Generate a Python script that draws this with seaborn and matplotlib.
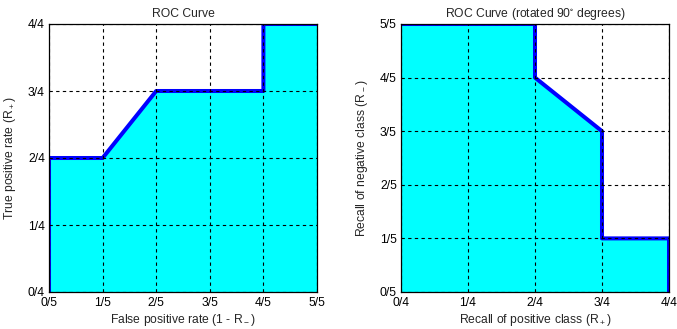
import matplotlib
matplotlib.use("Agg")
import matplotlib.pyplot as plt
import seaborn as sns
import numpy as np

# ROC data (fractions)
fpr = [0, 0, 1/5, 2/5, 4/5, 4/5, 5/5]
tpr = [0, 2/4, 2/4, 3/4, 3/4, 4/4, 4/4]
# rotated: x = recall positive (TPR), y = recall negative (1 - FPR)
rec_pos = [0, 2/4, 2/4, 3/4, 3/4, 4/4, 4/4]
rec_neg = [5/5, 5/5, 4/5, 3/5, 1/5, 1/5, 0]

xticks_left = ["0/5", "1/5", "2/5", "3/5", "4/5", "5/5"]
yticks_left = ["0/4", "1/4", "2/4", "3/4", "4/4"]
xticks_right = ["0/4", "1/4", "2/4", "3/4", "4/4"]
yticks_right = ["0/5", "1/5", "2/5", "3/5", "4/5", "5/5"]

sns.set_style("white")
plt.rcParams['font.family'] = ['Liberation Sans', 'DejaVu Sans']
plt.rcParams['mathtext.default'] = 'regular'

fig = plt.figure(figsize=(6.77, 3.29), dpi=100)
ax1 = fig.add_axes([49/677, 1-292/329, (317-49)/677, (292-24)/329])
ax2 = fig.add_axes([401/677, 1-292/329, (669-401)/677, (292-24)/329])

FS = 8.7

def style(ax, xt, yt):
    ax.set_xlim(0, 1)
    ax.set_ylim(0, 1)
    ax.set_xticks(np.linspace(0, 1, len(xt)))
    ax.set_xticklabels(xt, fontsize=FS)
    ax.set_yticks(np.linspace(0, 1, len(yt)))
    ax.set_yticklabels(yt, fontsize=FS)
    ax.grid(True, color='black', linestyle=(0, (3, 3)), linewidth=0.8, zorder=4)
    ax.set_axisbelow(False)
    ax.tick_params(axis='x', direction='in', length=3, width=0.8, pad=3.5, colors='black')
    ax.tick_params(axis='y', direction='in', length=3, width=0.8, pad=3, colors='black')
    for gl in ax.get_xgridlines() + ax.get_ygridlines():
        gl.set_zorder(4)
    for s in ax.spines.values():
        s.set_color('black')
        s.set_linewidth(0.9)
        s.set_zorder(5)

# Left
ax1.fill_between(fpr, tpr, 0, color='#00FFFF', zorder=1)
sns.lineplot(x=fpr, y=tpr, sort=False, estimator=None, ax=ax1, color='#0000FF', linewidth=2.9, zorder=2)
style(ax1, xticks_left, yticks_left)
ax1.set_title("ROC Curve", fontsize=FS, pad=5)
ax1.set_xlabel("False positive rate (1 - R$_-$)", fontsize=FS, labelpad=2)
ax1.set_ylabel("True positive rate (R$_+$)", fontsize=FS, labelpad=7)

# Right
ax2.fill_between(rec_pos, rec_neg, 0, color='#00FFFF', zorder=1)
sns.lineplot(x=rec_pos, y=rec_neg, sort=False, estimator=None, ax=ax2, color='#0000FF', linewidth=2.9, zorder=2)
style(ax2, xticks_right, yticks_right)
ax2.set_title("ROC Curve (rotated 90$^{\\circ}$ degrees)", fontsize=FS, pad=5)
ax2.set_xlabel("Recall of positive class (R$_+$)", fontsize=FS, labelpad=2)
ax2.set_ylabel("Recall of negative class (R$_-$)", fontsize=FS, labelpad=7)

fig.savefig("out.png", dpi=100)
